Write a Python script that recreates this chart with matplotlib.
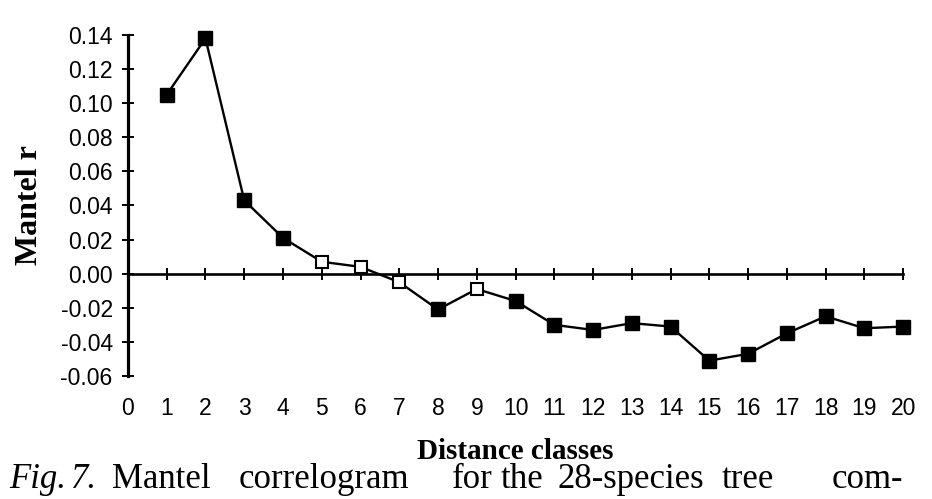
import matplotlib.pyplot as plt

# данные коррелограммы Мантеля
classes = [1, 2, 3, 4, 5, 6, 7, 8, 9, 10, 11, 12, 13, 14, 15, 16, 17, 18, 19, 20]
mantel_r = [0.105, 0.138, 0.043, 0.021, 0.007, 0.004, -0.005, -0.021, -0.009, -0.016,
            -0.030, -0.033, -0.029, -0.031, -0.051, -0.047, -0.035, -0.025, -0.032, -0.031]
significant = [True, True, True, True, False, False, False, True, False, True,
               True, True, True, True, True, True, True, True, True, True]
x_ticks = list(range(0, 21))
y_ticks = [-0.06, -0.04, -0.02, 0.00, 0.02, 0.04, 0.06, 0.08, 0.10, 0.12, 0.14]

# подпись к рисунку: слова и центры (в пикселях)
caption_words = ['Fig.', '7.', 'Mantel', 'correlogram', 'for', 'the', '28-species', 'tree', 'com-']
caption_x = [38, 84, 161, 324, 472, 522, 631, 748, 867]
caption_italic = [True, True, False, False, False, False, False, False, False]

fig = plt.figure(figsize=(9.32, 4.99), dpi=100)
ax = fig.add_axes([0.1373, 0.2465, 0.969 - 0.1373, 0.9299 - 0.2465])

tick_font = {'family': 'Liberation Sans', 'size': 16.5}
serif = 'Liberation Serif'

ax.plot(classes, mantel_r, color='black', lw=1.7, zorder=2, clip_on=False)
sig_x = [c for c, s in zip(classes, significant) if s]
sig_y = [r for r, s in zip(mantel_r, significant) if s]
ns_x = [c for c, s in zip(classes, significant) if not s]
ns_y = [r for r, s in zip(mantel_r, significant) if not s]
ax.plot(sig_x, sig_y, 's', ms=10.5, mfc='black', mec='black', zorder=3, clip_on=False)
ax.plot(ns_x, ns_y, 's', ms=8, mfc='white', mec='black', mew=1.5, zorder=3, clip_on=False)

ax.set_xlim(0, 20)
ax.set_ylim(-0.06, 0.14)

for s in ['top', 'right']:
    ax.spines[s].set_visible(False)
ax.spines['bottom'].set_position(('data', 0))
ax.spines['bottom'].set_linewidth(1.9)
ax.spines['left'].set_linewidth(2.3)

ax.set_xticks(x_ticks)
ax.tick_params(axis='x', direction='inout', length=8, width=1.4, labelbottom=False)
ax.set_yticks(y_ticks)
ax.set_yticklabels([f'{v:.2f}' for v in y_ticks], fontdict=tick_font)
ax.tick_params(axis='y', direction='inout', length=8, width=1.4, pad=7)

sec = ax.secondary_xaxis('bottom')
sec.set_xticks(x_ticks)
sec.set_xticklabels([str(v) for v in x_ticks], fontdict=tick_font)
sec.tick_params(length=0, pad=15)
sec.spines['bottom'].set_visible(False)
sec.set_xlabel('Distance classes', family=serif, fontweight='bold', fontsize=21, labelpad=13)

ax.set_ylabel('Mantel r', family=serif, fontweight='bold', fontsize=23, labelpad=12)

for w, x, it in zip(caption_words, caption_x, caption_italic):
    fig.text(x / 932, 1 - 488 / 499, w, family=serif, fontsize=25,
             style='italic' if it else 'normal', ha='center', va='baseline')

plt.savefig('out.png', dpi=100)
